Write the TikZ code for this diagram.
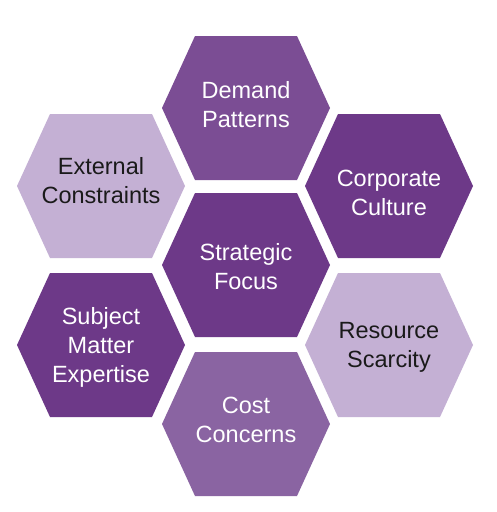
\documentclass[tikz,border=0pt]{standalone}
\usepackage{fontspec}
\setmainfont{Liberation Sans}
\definecolor{hexDemand}{HTML}{7B4D94}
\definecolor{hexDark}{HTML}{6D3988}
\definecolor{hexCost}{HTML}{8A64A2}
\definecolor{hexLight}{HTML}{C4B0D4}
\definecolor{txtDark}{HTML}{1A1A1A}
\tikzset{
  hexlabel/.style={align=center, inner sep=0pt, font=\fontsize{23.5}{29}\selectfont},
}
% name, x, y, fill, text colour, label y offset, text
\newcommand{\hexcell}[7]{%
  \begin{scope}[shift={(#2,#3)}]
    \fill[#4] (-84,0) -- (-51,72) -- (51,72) -- (84,0) -- (51,-72) -- (-51,-72) -- cycle;
  \end{scope}
  \node[hexlabel, text=#5] (#1) at (#2,#3+#6) {#7};%
}
\begin{document}
\begin{tikzpicture}[x=1pt, y=-1pt]
  \useasboundingbox[fill=white] (0,0) rectangle (497,512);
  \hexcell{demand}{246}{108}{hexDemand}{white}{-3}{Demand\\Patterns}
  \hexcell{external}{101}{186}{hexLight}{txtDark}{-5}{External\\Constraints}
  \hexcell{corporate}{389}{186}{hexDark}{white}{7}{Corporate\\Culture}
  \hexcell{strategic}{246}{265}{hexDark}{white}{2}{Strategic\\Focus}
  \hexcell{subject}{101}{345}{hexDark}{white}{2}{Subject\\Matter\\Expertise}
  \hexcell{resource}{389}{345}{hexLight}{txtDark}{2}{Resource\\Scarcity}
  \hexcell{cost}{246}{424}{hexCost}{white}{-4}{Cost\\Concerns}
\end{tikzpicture}
\end{document}
